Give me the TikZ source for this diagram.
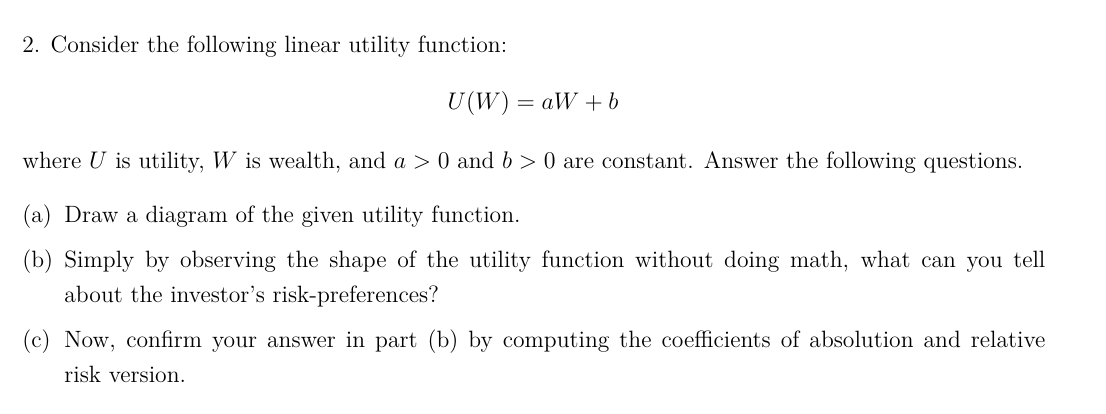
\documentclass[tikz,border=0pt]{standalone}
\begin{document}
\begin{tikzpicture}[x=0.5pt,y=-0.5pt,every node/.style={font=\fontsize{11.8}{14}\selectfont},txt/.style={anchor=base west,inner sep=0pt}]
\useasboundingbox (0,0) rectangle (1106,413);
\node[txt] (l1) at (22,52) {2. Consider the following linear utility function:};
\node[anchor=base,inner sep=0pt] (eq) at (533,109) {$U(W) = aW + b$};
\node[txt] (l2) at (22,168) {where $U$ is utility, $W$ is wealth, and $a>0$ and $b>0$ are constant. Answer the following questions.};
\node[txt] (la) at (22,222) {(a)};
\node[txt] (ta) at (64,222) {Draw a diagram of the given utility function.};
\node[txt] (lb) at (22,267) {(b)};
\node[txt] (tb) at (64,267) {\hbox to 490.5pt{Simply by observing the shape of the utility function without doing math, what can you tell}};
\node[txt] (tb2) at (64,302) {about the investor's risk-preferences?};
\node[txt] (lc) at (22,347) {(c)};
\node[txt] (tc) at (64,347) {\hbox to 490.5pt{Now, confirm your answer in part (b) by computing the coefficients of absolution and relative}};
\node[txt] (tc2) at (64,382) {risk version.};
\end{tikzpicture}
\end{document}
